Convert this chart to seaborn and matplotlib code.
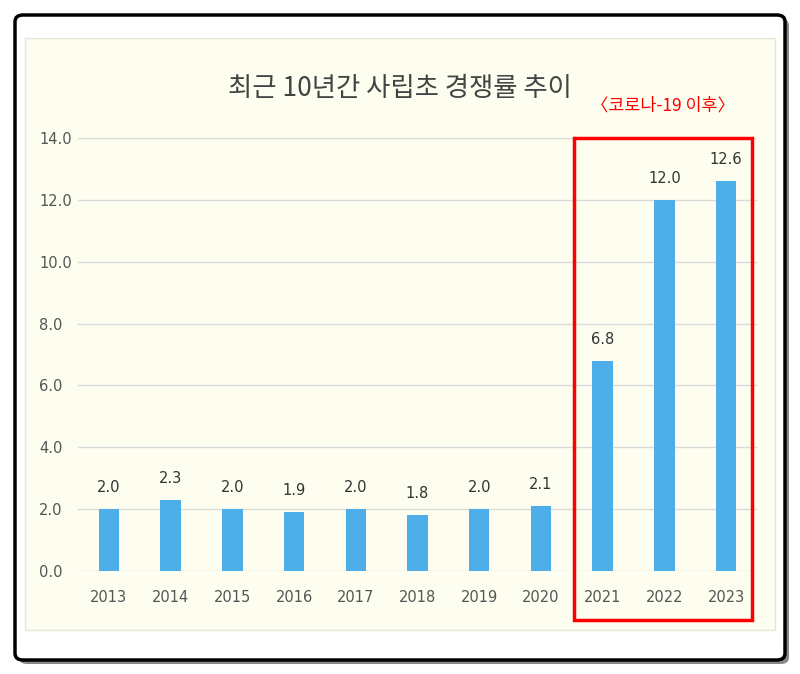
import matplotlib.pyplot as plt
import seaborn as sns
from matplotlib.patches import Rectangle, FancyBboxPatch

years = ["2013", "2014", "2015", "2016", "2017", "2018", "2019", "2020", "2021", "2022", "2023"]
rates = [2.0, 2.3, 2.0, 1.9, 2.0, 1.8, 2.0, 2.1, 6.8, 12.0, 12.6]
yticks = [0, 2, 4, 6, 8, 10, 12, 14]

W, H = 800, 674
KFONT = ["Noto Sans CJK KR", "Noto Sans CJK JP", "Noto Sans CJK SC", "DejaVu Sans"]
plt.rcParams["font.family"] = KFONT

fig = plt.figure(figsize=(W / 100, H / 100), dpi=100)
fig.patch.set_facecolor("white")


def fx(px):
    return px / W


def fy(py):
    return 1 - py / H


# outer rounded border with shadow
fig.patches.append(FancyBboxPatch((fx(19), fy(664)), fx(770), 645 / H,
                                  boxstyle="round,pad=0,rounding_size=0.01", transform=fig.transFigure,
                                  facecolor="#888888", edgecolor="none", zorder=0))
fig.patches.append(FancyBboxPatch((fx(15), fy(660)), fx(770), 645 / H,
                                  boxstyle="round,pad=0,rounding_size=0.01", transform=fig.transFigure,
                                  facecolor="white", edgecolor="black", linewidth=2.5, zorder=1))
# cream panel
fig.patches.append(Rectangle((fx(25), fy(630)), fx(750), 592 / H, transform=fig.transFigure,
                             facecolor="#FDFDF0", edgecolor="#E6E6D6", linewidth=1, zorder=2))

ax = fig.add_axes([fx(78), fy(571), fx(679), (571 - 138) / H], zorder=3)
ax.set_facecolor("none")
sns.barplot(x=years, y=rates, color="#4DAEEA", width=0.33, saturation=1, ax=ax)
for i, v in enumerate(rates):
    ax.text(i, v + 0.45, f"{v:.1f}", ha="center", va="bottom", fontsize=10.5, color="#333333",
            family="DejaVu Sans")
ax.set_ylim(0, 14)
ax.set_yticks(yticks)
ax.set_yticklabels([f"{t:.1f}" for t in yticks], family="DejaVu Sans")
ax.set_xticks(range(len(years)))
ax.set_xticklabels(years, family="DejaVu Sans")
ax.tick_params(axis="both", length=0, labelsize=10.5, colors="#555555")
ax.tick_params(axis="x", pad=14)
ax.tick_params(axis="y", pad=28)
for lbl in ax.get_yticklabels():
    lbl.set_horizontalalignment("left")
ax.grid(axis="y", color="#DADADA", linewidth=1)
ax.set_axisbelow(True)
for s in ax.spines.values():
    s.set_visible(False)
ax.set_xlabel("")
ax.set_ylabel("")

fig.text(fx(400), fy(88), "최근 10년간 사립초 경쟁률 추이", ha="center", va="center",
         fontsize=19, color="#444444", family=KFONT)
fig.text(fx(663), fy(106), "〈코로나-19 이후〉", ha="center", va="center", fontsize=12.5,
         color="#FF0000", family=KFONT)
fig.patches.append(Rectangle((fx(574), fy(620)), fx(178), (620 - 138) / H, transform=fig.transFigure,
                             facecolor="none", edgecolor="#FF0000", linewidth=2.5, zorder=5))

fig.savefig("out.png", dpi=100)
